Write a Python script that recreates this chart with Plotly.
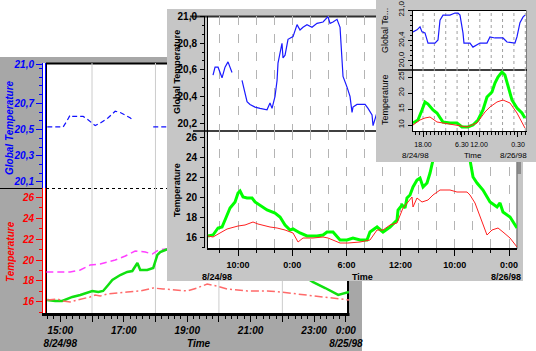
import plotly.graph_objects as go

W, H = 536, 351
FONT = "Liberation Sans"

# ---------------- data (time = hours since 8/24/98 00:00) ----------------
# Back window (8/24/98 15:00 .. 8/25/98 0:00)
a_ticks = [15, 16, 17, 18, 19, 20, 21, 22, 23, 24]
a_ticklabels = ["15:00<br>8/24/98", "", "17:00", "", "19:00", "", "21:00", "", "23:00", "0:00<br>8/25/98"]
a_gt_ticks = [20.1, 20.3, 20.5, 20.7, 21.0]
a_gt_labels = ["20,1", "20,3", "20,5", "20,7", "21,0"]
a_t_ticks = [16, 18, 20, 22, 24, 26]
a_t_labels = ["16", "18", "20", "22", "24", "26"]
a_grid = [16, 18, 20, 22]

a_global_time = [14.59, 15.09, 15.22, 15.31, 15.38, 15.72, 15.85, 16.01, 16.10, 16.26, 16.51, 16.73,
                 16.89, 17.05, 17.20, 17.30, 17.60, 17.93, 18.37, 19.0]
a_global = [20.52, 20.52, 20.57, 20.61, 20.60, 20.60, 20.58, 20.55, 20.53, 20.55, 20.59, 20.64,
            20.63, 20.61, 20.59, 20.57, None, 20.52, 20.52, 20.52]
a_magenta_time = [14.56, 15.31, 15.63, 15.94, 16.26, 16.51, 16.73, 17.05, 17.36, 17.68, 17.90, 18.09,
                  18.31, 18.78, 19.5]
a_magenta = [18.86, 18.86, 19.05, 19.52, 19.62, 19.81, 20.0, 20.38, 20.86, 20.76, 20.57, 20.95,
             21.05, 21.0, 21.2]
a_green_time = [14.59, 14.84, 15.06, 15.22, 15.38, 15.63, 15.85, 16.01, 16.20, 16.35, 16.51, 16.64,
                16.89, 17.11, 17.27, 17.43, 17.52, 17.74, 17.93, 18.06, 18.15, 18.31, 18.8, 19.5,
                20.5, 21.5, 22.3, 22.97, 23.35, 23.76, 24.10]
a_green = [16.19, 16.10, 16.10, 16.29, 16.48, 16.67, 16.86, 17.05, 16.95, 17.05, 17.62, 18.10,
           18.57, 18.86, 18.95, 19.71, 19.05, 19.05, 19.24, 20.48, 20.76, 20.95, 21.4, 21.8,
           21.5, 20.5, 19.2, 17.90, 17.33, 16.67, 16.95]
a_red_time = [14.59, 14.91, 15.09, 15.31, 15.54, 15.72, 15.94, 16.10, 16.26, 16.48, 16.73, 17.11,
              17.52, 17.93, 18.24, 18.56, 19.0, 19.31, 19.63, 19.94, 20.26, 20.89, 21.52, 21.93,
              22.46, 23.09, 23.60, 24.10]
a_red = [16.19, 16.29, 16.10, 16.0, 16.19, 16.29, 16.48, 16.67, 16.57, 16.76, 16.86, 16.95,
         17.05, 17.33, 17.24, 17.14, 17.05, 17.33, 17.71, 17.52, 17.24, 17.05, 17.05, 16.95,
         16.76, 16.57, 16.38, 16.19]

# Middle window (8/24/98 .. 8/26/98)
b_ticks = [8, 16, 24, 32, 40, 48]
b_ticklabels = ["10:00", "0:00", "6:00", "12:00", "10:00", "0:00"]
b_gt_ticks = [20.2, 20.4, 20.6, 20.8, 21.0]
b_gt_labels = ["20,2", "20,4", "20,6", "20,8", "21,0"]
b_t_ticks = [16, 18, 20, 22, 24, 26]
b_t_labels = ["16", "18", "20", "22", "24", "26"]

b_global_time = [4.31, 4.61, 5.05, 5.64, 6.08, 6.52, 7.11, 7.8, 8.59, 9.03, 9.33, 9.77, 10.51, 11.25,
                 12.28, 12.72, 13.02, 13.46, 13.76, 13.90, 14.49, 14.64, 14.94, 15.38, 16.12, 16.71,
                 17.15, 17.59, 18.18, 18.92, 19.66, 20.55, 21.14, 21.28, 21.58, 22.02, 22.61, 23.06,
                 23.20, 23.35, 23.50, 24.09, 24.53, 24.83, 24.97, 25.56, 26.30, 26.75, 27.19, 27.78,
                 27.93, 28.52, 28.96]
b_global = [20.56, 20.62, 20.62, 20.54, 20.62, 20.66, 20.58, None, 20.52, 20.41, 20.36, 20.34, 20.32,
            20.31, 20.30, 20.35, 20.31, 20.40, 20.52, 20.65, 20.80, 20.69, 20.71, 20.83, 20.85, 20.94,
            20.90, 20.92, 20.94, 20.92, 20.95, 20.96, 20.99, 21.0, 20.95, 20.96, 20.98, 20.92, 20.80,
            20.70, 20.55, 20.47, 20.40, 20.28, 20.32, 20.34, 20.34, 20.34, 20.31, 20.26, 20.18, 20.28,
            20.30]
b_green_time = [3.57, 4.31, 5.05, 5.64, 6.08, 6.82, 7.56, 8.0, 8.30, 8.74, 9.33, 10.07, 10.51, 11.25,
                12.28, 13.46, 14.20, 14.94, 15.68, 16.12, 17.15, 18.18, 19.66, 20.55, 21.14, 22.02,
                23.06, 24.09, 24.97, 26.01, 27.04, 27.48, 27.93, 28.52, 29.40, 30.44, 31.47, 31.62,
                32.21, 32.65, 32.94, 33.39, 33.83, 34.42, 34.86, 35.31, 35.90, 36.34, 36.78, 37.08,
                38.55, 40.03, 41.21, 42.24, 42.69, 43.28, 44.16, 45.20, 46.23, 46.67, 47.11, 48.15,
                49.18]
b_green = [16.1, 16.2, 16.9, 17.0, 17.7, 18.9, 19.5, 20.4, 20.6, 20.0, 19.9, 19.9, 19.5, 19.2, 18.7,
           18.4, 18.0, 17.2, 16.7, 16.8, 16.4, 16.1, 16.1, 16.2, 16.5, 16.5, 15.7, 15.7, 15.9, 15.7,
           15.7, 16.5, 16.7, 17.0, 16.5, 17.0, 17.7, 18.7, 19.2, 18.9, 19.9, 20.2, 21.0, 21.7, 21.9,
           21.0, 21.4, 22.4, 23.7, 24.0, 25.2, 25.7, 24.9, 23.7, 22.0, 21.4, 20.7, 19.5, 19.0, 19.4,
           18.5, 18.0, 16.9]
b_red_time = [3.57, 4.31, 5.34, 6.38, 8.0, 9.03, 10.21, 10.95, 12.72, 13.76, 14.94, 16.12, 16.86,
              17.59, 19.07, 20.55, 21.28, 23.06, 24.24, 26.01, 27.48, 28.52, 29.40, 30.44, 31.47,
              32.35, 33.09, 33.68, 33.83, 34.42, 35.16, 36.04, 36.78, 37.82, 39.29, 40.32, 41.80,
              42.24, 42.98, 43.72, 44.75, 45.49, 46.38, 47.11, 48.15, 49.18]
b_red = [16.1, 16.0, 16.4, 16.8, 17.1, 17.2, 17.5, 17.3, 17.0, 16.9, 16.7, 16.4, 15.5, 15.9, 15.9,
         16.0, 15.9, 15.4, 15.4, 15.5, 15.7, 16.7, 16.7, 17.2, 17.4, 18.9, 19.5, 20.0, 19.0, 19.9,
         19.5, 19.7, 20.2, 20.7, 20.7, 20.5, 20.5, 20.2, 19.4, 18.0, 16.2, 16.7, 16.9, 16.5, 15.9,
         15.0]

# Front window (8/24/98 .. 8/26/98)
c_ticks = [18, 30.5, 36, 48.5]
c_ticklabels = ["18.00", "6.30", "12.00", "0.30"]
c_gt_ticks = [20.0, 20.4, 21.0]
c_gt_labels = ["20,0", "20,4", "21,0"]
c_t_ticks = [10, 15, 20, 25]
c_t_labels = ["10", "15", "20", "25"]

c_global_time = [14.79, 16.07, 17.04, 17.68, 18.64, 19.28, 19.61, 21.85, 22.82, 23.46, 24.42, 26.67,
                 28.27, 29.24, 29.88, 30.84, 31.16, 33.09, 34.05, 36.30, 38.55, 39.51, 41.11, 43.68,
                 44.97, 47.53, 48.18, 49.14, 50.10, 50.74]
c_global = [20.57, 20.61, 20.67, 20.57, 20.55, 20.41, 20.35, 20.35, 20.41, 20.80, 20.90, 20.90,
            20.94, 20.94, 20.90, 20.55, 20.35, 20.35, 20.27, 20.35, 20.35, 20.47, 20.45, 20.45,
            20.37, 20.35, 20.47, 20.75, 20.86, 20.90]
c_green_time = [14.79, 16.39, 17.68, 18.64, 19.61, 21.21, 22.49, 23.46, 24.42, 26.67, 28.91, 30.52,
                32.45, 34.05, 35.66, 37.26, 38.55, 40.15, 41.11, 42.08, 43.36, 44.32, 45.29, 46.57,
                48.18, 49.78, 50.74]
c_green = [10.63, 11.56, 14.69, 17.19, 16.56, 14.69, 13.75, 12.5, 10.94, 10.63, 10.63, 9.38, 9.38,
           10.0, 11.56, 14.69, 18.75, 20.31, 23.13, 25.0, 26.56, 25.63, 21.88, 17.81, 15.31, 13.75,
           12.19]
c_red_time = [14.79, 17.04, 18.64, 20.25, 22.49, 24.42, 28.91, 32.13, 35.34, 37.90, 39.51, 41.76,
              43.68, 45.93, 48.18, 50.10, 50.74]
c_red = [10.0, 11.56, 12.19, 12.5, 10.94, 10.63, 10.0, 9.38, 10.63, 14.06, 15.63, 17.19, 17.81,
         16.88, 13.75, 10.0, 9.06]

# ---------------- helpers ----------------
fig = go.Figure()
layout = dict(template="none", width=W, height=H, autosize=False,
              margin=dict(l=0, r=0, t=0, b=0, pad=0, autoexpand=False),
              paper_bgcolor="white", plot_bgcolor="rgba(0,0,0,0)", showlegend=False,
              hovermode=False)
annotations = []


def sid(n):
    return "" if n == 1 else str(n)


def xd(a, b):
    return [a / W, b / W]


def yd(top, bot):
    return [1 - bot / H, 1 - top / H]


def add(n, **kw):
    s = sid(n)
    fig.add_trace(go.Scatter(xaxis="x" + s, yaxis="y" + s, hoverinfo="skip", showlegend=False, **kw))


def rect(n, x0, y0, x1, y1, color):
    add(n, x=[x0, x1, x1, x0, x0], y=[y0, y0, y1, y1, y0], mode="lines", fill="toself",
        fillcolor=color, line=dict(width=0, color=color))


def seg(n, xs, ys, color, width=1, dash="solid"):
    add(n, x=xs, y=ys, mode="lines", line=dict(color=color, width=width, dash=dash))


def bg_axes(n):
    s = sid(n)
    layout["xaxis" + s] = dict(domain=[0, 1], range=[0, W], visible=False, fixedrange=True,
                               anchor="y" + s, automargin=False)
    layout["yaxis" + s] = dict(domain=[0, 1], range=[H, 0], visible=False, fixedrange=True,
                               anchor="x" + s, automargin=False)


def gridlines(n, xs, yr, color, dash="solid"):
    gx, gy = [], []
    for v in xs:
        gx += [v, v, None]
        gy += [yr[0], yr[1], None]
    seg(n, gx, gy, color, 1, dash)


def ann(text, px, py, size, color="black", angle=0, weight="bold", style="normal"):
    annotations.append(dict(text=text, x=px / W, y=1 - py / H, xref="paper", yref="paper",
                            showarrow=False, xanchor="center", yanchor="middle", textangle=angle,
                            font=dict(family=FONT, size=size, color=color, weight=weight, style=style)))


def fnt(size, color="black", weight="bold", style="normal"):
    return dict(family=FONT, size=size, color=color, weight=weight, style=style)


COMMON = dict(automargin=False, fixedrange=True, zeroline=False)

# ================= Panel A (back) =================
bg_axes(1)
rect(1, 0, 57, 362, 351, "#a7a7a7")
rect(1, 42, 63, 349, 313, "white")
seg(1, [45.5, 45.5], [63, 188], "blue", 1)
seg(1, [45.5, 45.5], [188, 313], "red", 1)
seg(1, [46.5, 46.5], [63, 313], "black", 1)
seg(1, [46, 349], [63.5, 63.5], "black", 2)
seg(1, [348, 348], [63, 316], "black", 2)
seg(1, [42, 349.5], [314.5, 314.5], "black", 3)
seg(1, [0, 42], [188.5, 188.5], "black", 1)
seg(1, [46, 349], [188.5, 188.5], "black", 1, "dot")

a_xr = [14.55, 24.1]
a_gr = [20.054, 21.008]
a_tr = [14.95, 26.86]
layout["xaxis2"] = dict(domain=xd(46, 349), range=a_xr, anchor="y2", showticklabels=False, ticks="",
                        showgrid=False, **COMMON)
layout["yaxis2"] = dict(domain=yd(63, 188), range=a_gr, anchor="free", position=42 / W,
                        tickmode="array", tickvals=a_gt_ticks, ticktext=a_gt_labels, ticks="outside",
                        ticklen=6, tickcolor="blue", showline=True, linecolor="blue", linewidth=1,
                        tickangle=0, tickfont=fnt(10, "blue", "bold", "italic"), showgrid=False,
                        minor=dict(tickmode="linear", tick0=20.1, dtick=0.2 / 3, ticks="outside",
                                   ticklen=3, tickcolor="blue", showgrid=False), **COMMON)
gridlines(2, a_grid, a_gr, "#cccccc")
add(2, x=a_global_time, y=a_global, mode="lines", line=dict(color="#1010ff", width=1.2, dash="5px,3px"))

layout["xaxis3"] = dict(domain=xd(46, 349), range=a_xr, anchor="y3", tickmode="array", tickvals=a_ticks,
                        ticktext=a_ticklabels, ticks="outside", ticklen=8, tickcolor="black",
                        tickangle=0, tickfont=fnt(10, "black", "bold", "italic"), showgrid=False,
                        showline=False, ticklabelstandoff=0,
                        minor=dict(tickmode="linear", tick0=15, dtick=0.2, ticks="outside", ticklen=5,
                                   tickcolor="black", showgrid=False), **COMMON)
layout["yaxis3"] = dict(domain=yd(188, 313), range=a_tr, anchor="free", position=42 / W,
                        tickmode="array", tickvals=a_t_ticks, ticktext=a_t_labels, ticks="outside",
                        ticklen=6, tickcolor="red", showline=True, linecolor="red", linewidth=1,
                        tickangle=0, tickfont=fnt(10, "red", "bold", "italic"), showgrid=False,
                        minor=dict(tickmode="linear", tick0=16, dtick=1, ticks="outside", ticklen=3,
                                   tickcolor="red", showgrid=False), **COMMON)
gridlines(3, a_grid, a_tr, "#cccccc")
add(3, x=a_magenta_time, y=a_magenta, mode="lines", line=dict(color="#ff40ff", width=1.5, dash="7px,4px"))
add(3, x=a_green_time, y=a_green, mode="lines", line=dict(color="#10e010", width=2.5))
add(3, x=a_red_time, y=a_red, mode="lines", line=dict(color="#ff6a6a", width=1.5, dash="8px,3px,2px,3px"))

ann("Global Temperature", 10, 128, 10, "blue", -90, "bold", "italic")
ann("Temperature", 10, 252, 10, "red", -90, "bold", "italic")
ann("Time", 199, 343, 10, "black", 0, "bold", "italic")

# ================= Panel B (middle) =================
bg_axes(4)
rect(4, 167, 9, 523, 281, "#c6c6c6")
rect(4, 207, 16, 517, 248, "white")
rect(4, 517, 162, 521, 174, "#8c8c8c")
seg(4, [190, 518], [16.5, 16.5], "#303030", 2)
seg(4, [517, 517], [16, 249], "#808080", 1.5)
seg(4, [207.5, 207.5], [16, 249], "black", 1)
seg(4, [193, 517], [131, 131], "black", 1.5)

b_xr = [3.42, 49.18]
b_gr = [20.14, 21.005]
b_tr = [14.9, 26.6]
grid_b = dict(showgrid=True, gridcolor="#b4b4b4", griddash="dash", gridwidth=1)
layout["xaxis5"] = dict(domain=xd(207, 517), range=b_xr, anchor="y5", tickmode="array", tickvals=b_ticks,
                        showticklabels=False, ticks="", **grid_b,
                        minor=dict(tickmode="linear", tick0=0, dtick=8 / 3, ticks="", **grid_b), **COMMON)
layout["yaxis5"] = dict(domain=yd(16, 131), range=b_gr, anchor="free", position=204 / W,
                        tickmode="array", tickvals=b_gt_ticks, ticktext=b_gt_labels, ticks="outside",
                        ticklen=4, tickcolor="black", showline=True, linecolor="black", linewidth=1,
                        tickangle=0, tickfont=fnt(10), showgrid=False, ticklabelstandoff=1,
                        minor=dict(tickmode="linear", tick0=20.2, dtick=0.2 / 3, ticks="outside",
                                   ticklen=2, tickcolor="black", showgrid=False), **COMMON)
add(5, x=b_global_time, y=b_global, mode="lines", line=dict(color="#1a1aff", width=1.2))

layout["xaxis6"] = dict(domain=xd(207, 517), range=b_xr, anchor="y6", tickmode="array", tickvals=b_ticks,
                        ticktext=b_ticklabels, ticks="outside", ticklen=6, tickcolor="black",
                        showline=True, linecolor="black", linewidth=2, tickangle=0, tickfont=fnt(9),
                        ticklabelstandoff=1, **grid_b,
                        minor=dict(tickmode="linear", tick0=0, dtick=8 / 3, ticks="outside", ticklen=3,
                                   tickcolor="black", **grid_b), **COMMON)
layout["yaxis6"] = dict(domain=yd(131, 248), range=b_tr, anchor="free", position=204 / W,
                        tickmode="array", tickvals=b_t_ticks, ticktext=b_t_labels, ticks="outside",
                        ticklen=4, tickcolor="black", showline=True, linecolor="black", linewidth=1,
                        tickangle=0, tickfont=fnt(10), showgrid=False, ticklabelstandoff=1,
                        minor=dict(tickmode="linear", tick0=16, dtick=1, ticks="outside", ticklen=2,
                                   tickcolor="black", showgrid=False), **COMMON)
add(6, x=b_green_time, y=b_green, mode="lines", line=dict(color="#00ff00", width=3))
add(6, x=b_red_time, y=b_red, mode="lines", line=dict(color="#ff2020", width=1))

ann("Global Temperature", 177, 72, 9, angle=-90)
ann("Temperature", 177, 190, 9, angle=-90)
ann("8/24/98", 217, 277, 9)
ann("Time", 362, 277, 9)
ann("8/26/98", 506, 277, 9)

# ================= Panel C (front) =================
bg_axes(7)
rect(7, 376, 0, 536, 162, "#c6c6c6")
rect(7, 413, 10, 527, 131, "white")
seg(7, [413, 527], [10.5, 10.5], "black", 1)
seg(7, [526.5, 526.5], [10, 131], "#808080", 1)
seg(7, [398, 527], [70, 70], "black", 1.5)

c_xr = [14.79, 51.4]
c_gr = [19.82, 21.0]
c_tr = [8.125, 27.19]
c_grid = [18 + 3.65 * k for k in range(10)]
layout["xaxis8"] = dict(domain=xd(413, 527), range=c_xr, anchor="y8", showticklabels=False, ticks="",
                        showgrid=False, **COMMON)
layout["yaxis8"] = dict(domain=yd(10, 70), range=c_gr, anchor="x8", tickmode="array", tickvals=c_gt_ticks,
                        ticktext=c_gt_labels, tickangle=-90, ticks="outside", ticklen=4, tickcolor="black",
                        showline=True, linecolor="black", linewidth=1, tickfont=fnt(8, weight="normal"),
                        showgrid=False, ticklabelstandoff=1,
                        minor=dict(tickmode="linear", tick0=20.0, dtick=0.1, ticks="outside", ticklen=2,
                                   tickcolor="black", showgrid=False), **COMMON)
gridlines(8, c_grid, c_gr, "#a0a0a0", "dot")
add(8, x=c_global_time, y=c_global, mode="lines", line=dict(color="#1a1aff", width=1.2))

layout["xaxis9"] = dict(domain=xd(413, 527), range=c_xr, anchor="y9", tickmode="array", tickvals=c_ticks,
                        ticktext=c_ticklabels, ticks="outside", ticklen=5, tickcolor="black",
                        showline=True, linecolor="black", linewidth=1, tickangle=0,
                        tickfont=fnt(7, weight="normal"), showgrid=False, ticklabelstandoff=2,
                        minor=dict(tickmode="linear", tick0=18, dtick=1.22, ticks="outside", ticklen=3,
                                   tickcolor="black", showgrid=False), **COMMON)
layout["yaxis9"] = dict(domain=yd(70, 131), range=c_tr, anchor="x9", tickmode="array", tickvals=c_t_ticks,
                        ticktext=c_t_labels, tickangle=-90, ticks="outside", ticklen=4, tickcolor="black",
                        showline=True, linecolor="black", linewidth=1, tickfont=fnt(8, weight="normal"),
                        showgrid=False, ticklabelstandoff=1, **COMMON)
gridlines(9, c_grid, c_tr, "#a0a0a0", "dot")
add(9, x=c_green_time, y=c_green, mode="lines", line=dict(color="#00ff00", width=3))
add(9, x=c_red_time, y=c_red, mode="lines", line=dict(color="#ff2020", width=1))

ann("Global Te...", 385, 31, 9, angle=-90, weight="normal")
ann("Temperature", 385, 100, 9, angle=-90, weight="normal")
ann("8/24/98", 415, 155, 8, weight="normal")
ann("Time", 473, 155, 8, weight="normal")
ann("8/26/98", 513, 155, 8, weight="normal")

layout["annotations"] = annotations
fig.update_layout(layout)
fig.write_html("out.html", config={"displayModeBar": False, "staticPlot": True},
               post_script="document.body.style.margin='0';")
